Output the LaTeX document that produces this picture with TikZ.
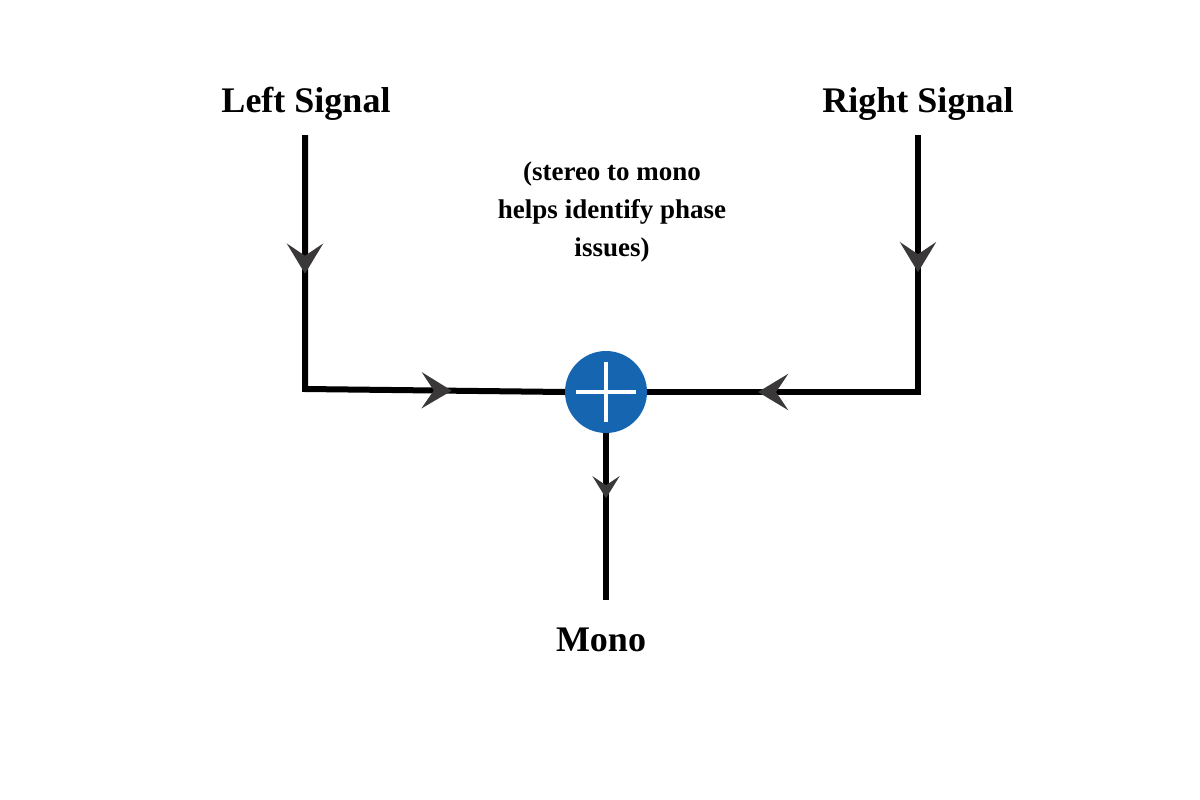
\documentclass[tikz,border=0pt]{standalone}
\usepackage{fontspec}
\setmainfont{Liberation Serif}
\usetikzlibrary{arrows.meta,decorations.markings}
\definecolor{sumblue}{HTML}{1565B1}
\definecolor{tipgray}{HTML}{3A3839}
\def\bigtip{\arrow[tipgray]{Stealth[length=30pt,width=36pt,inset=12pt]}}
\def\smalltip{\arrow[tipgray]{Stealth[length=22pt,width=27pt,inset=9pt]}}
\tikzset{
	wire/.style={line width=6pt, line join=miter},
	label/.style={font=\bfseries\fontsize{36}{42}\selectfont, anchor=base},
	note/.style={font=\bfseries\fontsize{27}{38}\selectfont, align=center}
}

\begin{document}
\begin{tikzpicture}[x=1pt,y=-1pt]
			%%%%% START %%%%%
			\useasboundingbox (0,0) rectangle (1200,800);
			
			\coordinate (ltop) at (305,135);
			\coordinate (lbend) at (305,389);
			\coordinate (rtop) at (918,135);
			\coordinate (rbend) at (918,392);
			\coordinate (mbot) at (606,600);
			\node[circle, fill=sumblue, minimum size=82pt, inner sep=0pt] (sum) at (606,392) {};
			
			\draw[wire, postaction={decorate}, decoration={markings,
				mark=at position 0.27 with {\bigtip},
				mark=at position 0.78 with {\bigtip}}] (ltop) -- (lbend) -- (sum.west);
			\draw[wire, postaction={decorate}, decoration={markings,
				mark=at position 0.26 with {\bigtip},
				mark=at position 0.79 with {\bigtip}}] (rtop) -- (rbend) -- (sum.east);
			\draw[wire, postaction={decorate}, decoration={markings,
				mark=at position 0.39 with {\smalltip}}] (sum.south) -- (mbot);
			
			\draw[white, line width=4pt] ([xshift=-30pt]sum.center) -- ([xshift=30pt]sum.center);
			\draw[white, line width=4pt] ([yshift=-30pt]sum.center) -- ([yshift=30pt]sum.center);
			
			\node[label] (left) at (306,113) {Left Signal};
			\node[label] (right) at (918,113) {Right Signal};
			\node[label] (mono) at (601,651) {Mono};
			\node[note] (hint) at (612,212) {(stereo to mono\\helps identify phase\\issues)};
			%%%%% END %%%%%
\end{tikzpicture}
\end{document}
